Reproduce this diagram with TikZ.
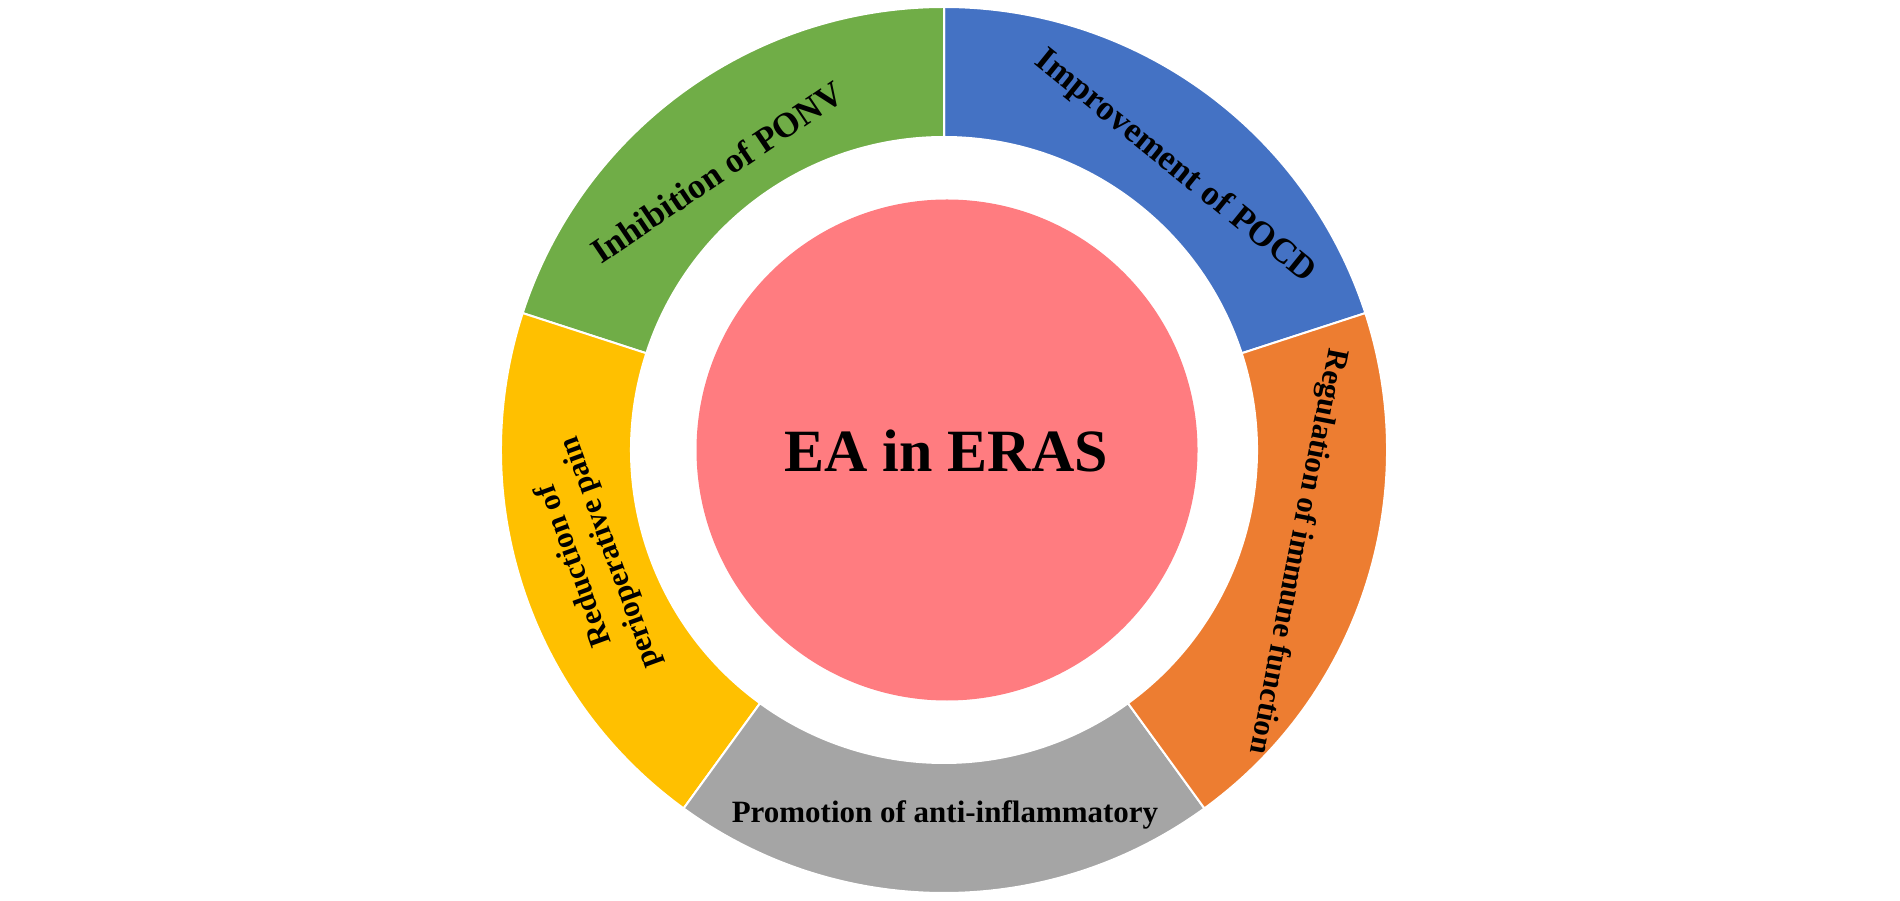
\documentclass[tikz,border=0pt]{standalone}
\usepackage{fontspec}
\setmainfont{Liberation Serif}
\usetikzlibrary{calc}
\definecolor{segblue}{HTML}{4472C4}
\definecolor{seggreen}{HTML}{70AD47}
\definecolor{segyellow}{HTML}{FFC000}
\definecolor{seggray}{HTML}{A5A5A5}
\definecolor{segorange}{HTML}{ED7D31}
\definecolor{corepink}{HTML}{FF7C80}
\begin{document}
\begin{tikzpicture}[x=1pt,y=1pt,
  seg/.style={draw=white, line width=2pt},
  lbl/.style={font=\fontsize{31}{38}\selectfont\bfseries, inner sep=0pt, text=black},
  toplbl/.style={font=\fontsize{35}{42}\selectfont\bfseries, inner sep=0pt, text=black},
  biglbl/.style={font=\fontsize{60}{72}\selectfont\bfseries, inner sep=0pt, text=black}]
\useasboundingbox (0,0) rectangle (1900,900);
\fill[white] (0,0) rectangle (1900,900);
\coordinate (c) at (944,450);
\foreach \a/\b/\col in {18/90/segblue, 90/162/seggreen, 162/234/segyellow, 234/306/seggray, 306/378/segorange}{
  \path[seg, fill=\col] ($(c)+(\a:443pt)$) arc[start angle=\a, end angle=\b, radius=443pt]
    -- ($(c)+(\b:313pt)$) arc[start angle=\b, end angle=\a, radius=313pt] -- cycle;
}
\node[circle, fill=corepink, minimum size=501pt, inner sep=0pt] (core) at (947,450) {};
\node[biglbl, anchor=base] (title) at (946,428) {EA in ERAS};
\node[toplbl, rotate=34] (ponv) at (717,728) {Inhibition of PONV};
\node[toplbl, rotate=-39] (pocd) at (1175,733) {Improvement of POCD};
\node[lbl, rotate=-101] (immune) at (1297,349) {Regulation of immune function};
\node[lbl, rotate=110, align=center] (pain) at (593,341) {Reduction of\\perioperative pain};
\node[lbl, anchor=base] (inflam) at (945,78) {Promotion of anti-inflammatory};
\end{tikzpicture}
\end{document}
